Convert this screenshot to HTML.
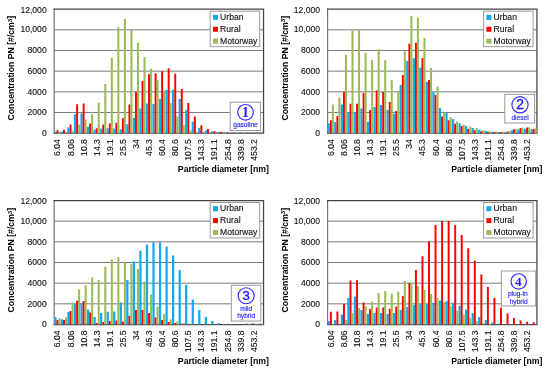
<!DOCTYPE html>
<html><head><meta charset="utf-8"><title>Particle number size distributions</title>
<style>
html,body{margin:0;padding:0;background:#fff}
svg{display:block}
text{font-family:"Liberation Sans",sans-serif}
.t{font-size:8.6px;fill:#111;stroke:#111;stroke-width:0.12px}
.b{font-size:8.68px;font-weight:bold;fill:#000}
.n{font-family:"Liberation Serif",serif;font-weight:bold;fill:#1a1aff}
.m{font-family:"Liberation Sans",sans-serif;fill:#1a1aff;stroke:#1a1aff;stroke-width:0.35px}
.s{font-size:6.6px;fill:#2a2aff;stroke:#2a2aff;stroke-width:0.15px}
</style></head><body>
<svg width="550" height="372" viewBox="0 0 550 372">
<rect width="550" height="372" fill="#fff"/>
<line x1="54.20" x2="263.55" y1="29.82" y2="29.82" stroke="#727272" stroke-width="0.95"/>
<line x1="54.20" x2="263.55" y1="50.48" y2="50.48" stroke="#727272" stroke-width="0.95"/>
<line x1="54.20" x2="263.55" y1="71.15" y2="71.15" stroke="#727272" stroke-width="0.95"/>
<line x1="54.20" x2="263.55" y1="91.82" y2="91.82" stroke="#727272" stroke-width="0.95"/>
<line x1="54.20" x2="263.55" y1="112.48" y2="112.48" stroke="#727272" stroke-width="0.95"/>
<path d="M54.20 8.53V133.78" stroke="#6e6e6e" stroke-width="1.15" fill="none"/>
<path d="M53.62 9.15H263.55V133.15H53.62" stroke="#444" stroke-width="1.25" fill="none" stroke-linejoin="miter"/>
<path d="M54.25 133.25v-1.86h2.25v1.86zM60.79 133.25v-1.86h2.25v1.86zM67.33 133.25v-5.78h2.25v5.78zM73.88 133.25v-18.91h2.25v18.91zM80.42 133.25v-19.63h2.25v19.63zM86.96 133.25v-6.51h2.25v6.51zM93.50 133.25v-3.61h2.25v3.61zM100.05 133.25v-4.75h2.25v4.75zM106.59 133.25v-5.06h2.25v5.06zM113.13 133.25v-4.75h2.25v4.75zM119.67 133.25v-4.03h2.25v4.03zM126.21 133.25v-8.88h2.25v8.88zM132.76 133.25v-15.19h2.25v15.19zM139.30 133.25v-24.80h2.25v24.80zM145.84 133.25v-29.76h2.25v29.76zM152.38 133.25v-29.24h2.25v29.24zM158.93 133.25v-34.20h2.25v34.20zM165.47 133.25v-43.19h2.25v43.19zM172.01 133.25v-43.60h2.25v43.60zM178.55 133.25v-34.20h2.25v34.20zM185.09 133.25v-23.14h2.25v23.14zM191.64 133.25v-11.47h2.25v11.47zM198.18 133.25v-5.16h2.25v5.16zM204.72 133.25v-2.68h2.25v2.68zM211.26 133.25v-1.65h2.25v1.65zM217.80 133.25v-1.13h2.25v1.13zM224.35 133.25v-0.72h2.25v0.72zM230.89 133.25v-0.41h2.25v0.41zM237.43 133.25v-0.40h2.25v0.40zM243.97 133.25v-0.40h2.25v0.40zM250.52 133.25v-0.40h2.25v0.40zM257.06 133.25v-0.40h2.25v0.40z" fill="#12a9ee"/>
<path d="M56.50 133.25v-2.89h1.95v2.89zM63.04 133.25v-3.61h1.95v3.61zM69.58 133.25v-8.68h1.95v8.68zM76.13 133.25v-29.03h1.95v29.03zM82.67 133.25v-29.76h1.95v29.76zM89.21 133.25v-9.81h1.95v9.81zM95.75 133.25v-5.06h1.95v5.06zM102.30 133.25v-8.68h1.95v8.68zM108.84 133.25v-9.81h1.95v9.81zM115.38 133.25v-10.54h1.95v10.54zM121.92 133.25v-15.08h1.95v15.08zM128.46 133.25v-28.83h1.95v28.83zM135.01 133.25v-41.23h1.95v41.23zM141.55 133.25v-52.28h1.95v52.28zM148.09 133.25v-59.00h1.95v59.00zM154.63 133.25v-60.03h1.95v60.03zM161.18 133.25v-62.10h1.95v62.10zM167.72 133.25v-64.89h1.95v64.89zM174.26 133.25v-59.52h1.95v59.52zM180.80 133.25v-44.22h1.95v44.22zM187.34 133.25v-30.17h1.95v30.17zM193.89 133.25v-16.74h1.95v16.74zM200.43 133.25v-7.95h1.95v7.95zM206.97 133.25v-4.13h1.95v4.13zM213.51 133.25v-2.06h1.95v2.06zM220.05 133.25v-1.13h1.95v1.13zM226.60 133.25v-0.72h1.95v0.72zM233.14 133.25v-0.41h1.95v0.41zM239.68 133.25v-0.40h1.95v0.40zM246.22 133.25v-0.40h1.95v0.40zM252.77 133.25v-0.40h1.95v0.40zM259.31 133.25v-0.40h1.95v0.40z" fill="#ff0000"/>
<path d="M58.45 133.25v-0.41h2.04v0.41zM64.99 133.25v-0.62h2.04v0.62zM71.53 133.25v-2.58h2.04v2.58zM78.08 133.25v-8.68h2.04v8.68zM84.62 133.25v-13.74h2.04v13.74zM91.16 133.25v-18.91h2.04v18.91zM97.70 133.25v-30.48h2.04v30.48zM104.25 133.25v-49.18h2.04v49.18zM110.79 133.25v-75.53h2.04v75.53zM117.33 133.25v-106.02h2.04v106.02zM123.87 133.25v-114.28h2.04v114.28zM130.41 133.25v-103.33h2.04v103.33zM136.96 133.25v-90.41h2.04v90.41zM143.50 133.25v-76.36h2.04v76.36zM150.04 133.25v-64.58h2.04v64.58zM156.58 133.25v-53.32h2.04v53.32zM163.12 133.25v-41.23h2.04v41.23zM169.67 133.25v-30.17h2.04v30.17zM176.21 133.25v-16.74h2.04v16.74zM182.75 133.25v-8.16h2.04v8.16zM189.29 133.25v-3.10h2.04v3.10zM195.84 133.25v-1.13h2.04v1.13zM202.38 133.25v-0.41h2.04v0.41zM208.92 133.25v-0.40h2.04v0.40z" fill="#9bbb59"/>
<text x="46.70" y="12.55" text-anchor="end" class="t">12,000</text>
<text x="46.70" y="32.47" text-anchor="end" class="t">10,000</text>
<text x="46.70" y="53.48" text-anchor="end" class="t">8000</text>
<text x="46.70" y="74.05" text-anchor="end" class="t">6000</text>
<text x="46.70" y="94.62" text-anchor="end" class="t">4000</text>
<text x="46.70" y="115.18" text-anchor="end" class="t">2000</text>
<text x="46.70" y="135.75" text-anchor="end" class="t">0</text>
<text transform="translate(14.20 68.15) rotate(-90)" text-anchor="middle" class="b">Concentration PN [#/cm<tspan dy="-2.7" font-size="6.2">3</tspan><tspan dy="2.7">]</tspan></text>
<text transform="translate(60.47 139.15) rotate(-90)" text-anchor="end" class="t">6.04</text>
<text transform="translate(73.56 139.15) rotate(-90)" text-anchor="end" class="t">8.06</text>
<text transform="translate(86.64 139.15) rotate(-90)" text-anchor="end" class="t">10.8</text>
<text transform="translate(99.72 139.15) rotate(-90)" text-anchor="end" class="t">14.3</text>
<text transform="translate(112.81 139.15) rotate(-90)" text-anchor="end" class="t">19.1</text>
<text transform="translate(125.89 139.15) rotate(-90)" text-anchor="end" class="t">25.5</text>
<text transform="translate(138.98 139.15) rotate(-90)" text-anchor="end" class="t">34</text>
<text transform="translate(152.06 139.15) rotate(-90)" text-anchor="end" class="t">45.3</text>
<text transform="translate(165.15 139.15) rotate(-90)" text-anchor="end" class="t">60.4</text>
<text transform="translate(178.23 139.15) rotate(-90)" text-anchor="end" class="t">80.6</text>
<text transform="translate(191.31 139.15) rotate(-90)" text-anchor="end" class="t">107.5</text>
<text transform="translate(204.40 139.15) rotate(-90)" text-anchor="end" class="t">143.3</text>
<text transform="translate(217.48 139.15) rotate(-90)" text-anchor="end" class="t">191.1</text>
<text transform="translate(230.57 139.15) rotate(-90)" text-anchor="end" class="t">254.8</text>
<text transform="translate(243.65 139.15) rotate(-90)" text-anchor="end" class="t">339.8</text>
<text transform="translate(256.74 139.15) rotate(-90)" text-anchor="end" class="t">453.2</text>
<text x="268.95" y="172.15" text-anchor="end" class="b">Particle diameter [nm]</text>
<rect x="210.20" y="11.15" width="49.5" height="35.5" fill="#fff" stroke="#9a9a9a" stroke-width="1.0"/>
<rect x="213.00" y="14.85" width="5.0" height="5.0" fill="#12a9ee"/>
<text x="220.10" y="19.85" class="t">Urban</text>
<rect x="213.00" y="26.75" width="5.0" height="5.0" fill="#ff0000"/>
<text x="220.10" y="31.75" class="t">Rural</text>
<rect x="213.00" y="38.65" width="5.0" height="5.0" fill="#9bbb59"/>
<text x="220.10" y="43.65" class="t">Motorway</text>
<rect x="230.20" y="102.20" width="30.3" height="28.3" fill="#fff" stroke="#9a9a9a" stroke-width="1.0"/>
<circle cx="245.50" cy="112.30" r="7.8" fill="none" stroke="#3030ff" stroke-width="1.2"/>
<text x="245.50" y="116.70" text-anchor="middle" class="n" style="font-size:13.8px">1</text>
<text x="245.50" y="127.40" text-anchor="middle" class="s">gasoline</text>
<line x1="327.60" x2="536.95" y1="29.82" y2="29.82" stroke="#727272" stroke-width="0.95"/>
<line x1="327.60" x2="536.95" y1="50.48" y2="50.48" stroke="#727272" stroke-width="0.95"/>
<line x1="327.60" x2="536.95" y1="71.15" y2="71.15" stroke="#727272" stroke-width="0.95"/>
<line x1="327.60" x2="536.95" y1="91.82" y2="91.82" stroke="#727272" stroke-width="0.95"/>
<line x1="327.60" x2="536.95" y1="112.48" y2="112.48" stroke="#727272" stroke-width="0.95"/>
<path d="M327.60 8.53V133.78" stroke="#6e6e6e" stroke-width="1.15" fill="none"/>
<path d="M327.02 9.15H536.95V133.15H327.02" stroke="#444" stroke-width="1.25" fill="none" stroke-linejoin="miter"/>
<path d="M327.65 133.25v-10.12h2.25v10.12zM334.19 133.25v-11.16h2.25v11.16zM340.73 133.25v-28.83h2.25v28.83zM347.28 133.25v-21.18h2.25v21.18zM353.82 133.25v-21.18h2.25v21.18zM360.36 133.25v-24.80h2.25v24.80zM366.90 133.25v-11.16h2.25v11.16zM373.45 133.25v-26.14h2.25v26.14zM379.99 133.25v-28.21h2.25v28.21zM386.53 133.25v-23.14h2.25v23.14zM393.07 133.25v-19.53h2.25v19.53zM399.61 133.25v-48.25h2.25v48.25zM406.16 133.25v-72.33h2.25v72.33zM412.70 133.25v-74.91h2.25v74.91zM419.24 133.25v-65.41h2.25v65.41zM425.78 133.25v-51.25h2.25v51.25zM432.32 133.25v-41.23h2.25v41.23zM438.87 133.25v-25.21h2.25v25.21zM445.41 133.25v-20.15h2.25v20.15zM451.95 133.25v-14.15h2.25v14.15zM458.49 133.25v-10.12h2.25v10.12zM465.04 133.25v-7.13h2.25v7.13zM471.58 133.25v-5.16h2.25v5.16zM478.12 133.25v-3.51h2.25v3.51zM484.66 133.25v-2.48h2.25v2.48zM491.20 133.25v-1.55h2.25v1.55zM497.75 133.25v-1.13h2.25v1.13zM504.29 133.25v-1.34h2.25v1.34zM510.83 133.25v-2.89h2.25v2.89zM517.37 133.25v-3.92h2.25v3.92zM523.92 133.25v-4.44h2.25v4.44zM530.46 133.25v-3.92h2.25v3.92z" fill="#12a9ee"/>
<path d="M329.90 133.25v-13.12h1.95v13.12zM336.44 133.25v-17.15h1.95v17.15zM342.98 133.25v-41.23h1.95v41.23zM349.53 133.25v-29.55h1.95v29.55zM356.07 133.25v-29.55h1.95v29.55zM362.61 133.25v-40.19h1.95v40.19zM369.15 133.25v-23.14h1.95v23.14zM375.70 133.25v-42.67h1.95v42.67zM382.24 133.25v-41.23h1.95v41.23zM388.78 133.25v-31.20h1.95v31.20zM395.32 133.25v-22.21h1.95v22.21zM401.86 133.25v-58.28h1.95v58.28zM408.41 133.25v-89.38h1.95v89.38zM414.95 133.25v-90.41h1.95v90.41zM421.49 133.25v-75.33h1.95v75.33zM428.03 133.25v-53.32h1.95v53.32zM434.57 133.25v-38.23h1.95v38.23zM441.12 133.25v-16.74h1.95v16.74zM447.66 133.25v-13.12h1.95v13.12zM454.20 133.25v-9.50h1.95v9.50zM460.74 133.25v-7.13h1.95v7.13zM467.29 133.25v-4.13h1.95v4.13zM473.83 133.25v-3.10h1.95v3.10zM480.37 133.25v-2.06h1.95v2.06zM486.91 133.25v-1.55h1.95v1.55zM493.45 133.25v-1.13h1.95v1.13zM500.00 133.25v-0.93h1.95v0.93zM506.54 133.25v-1.55h1.95v1.55zM513.08 133.25v-4.03h1.95v4.03zM519.62 133.25v-5.16h1.95v5.16zM526.17 133.25v-5.68h1.95v5.68zM532.71 133.25v-4.23h1.95v4.23z" fill="#ff0000"/>
<path d="M331.85 133.25v-28.83h2.04v28.83zM338.39 133.25v-35.85h2.04v35.85zM344.93 133.25v-78.32h2.04v78.32zM351.48 133.25v-102.81h2.04v102.81zM358.02 133.25v-103.23h2.04v103.23zM364.56 133.25v-80.39h2.04v80.39zM371.10 133.25v-73.36h2.04v73.36zM377.65 133.25v-84.01h2.04v84.01zM384.19 133.25v-72.95h2.04v72.95zM390.73 133.25v-53.32h2.04v53.32zM397.27 133.25v-41.23h2.04v41.23zM403.81 133.25v-81.94h2.04v81.94zM410.36 133.25v-117.28h2.04v117.28zM416.90 133.25v-115.83h2.04v115.83zM423.44 133.25v-95.17h2.04v95.17zM429.98 133.25v-65.30h2.04v65.30zM436.52 133.25v-46.81h2.04v46.81zM443.07 133.25v-20.77h2.04v20.77zM449.61 133.25v-16.12h2.04v16.12zM456.15 133.25v-11.78h2.04v11.78zM462.69 133.25v-8.68h2.04v8.68zM469.24 133.25v-6.71h2.04v6.71zM475.78 133.25v-5.16h2.04v5.16zM482.32 133.25v-3.10h2.04v3.10zM488.86 133.25v-2.06h2.04v2.06zM495.40 133.25v-1.65h2.04v1.65zM501.95 133.25v-1.44h2.04v1.44zM508.49 133.25v-2.17h2.04v2.17zM515.03 133.25v-3.92h2.04v3.92zM521.57 133.25v-5.68h2.04v5.68zM528.12 133.25v-5.89h2.04v5.89zM534.66 133.25v-4.96h2.04v4.96z" fill="#9bbb59"/>
<text x="320.10" y="12.55" text-anchor="end" class="t">12,000</text>
<text x="320.10" y="32.47" text-anchor="end" class="t">10,000</text>
<text x="320.10" y="53.48" text-anchor="end" class="t">8000</text>
<text x="320.10" y="74.05" text-anchor="end" class="t">6000</text>
<text x="320.10" y="94.62" text-anchor="end" class="t">4000</text>
<text x="320.10" y="115.18" text-anchor="end" class="t">2000</text>
<text x="320.10" y="135.75" text-anchor="end" class="t">0</text>
<text transform="translate(287.60 68.15) rotate(-90)" text-anchor="middle" class="b">Concentration PN [#/cm<tspan dy="-2.7" font-size="6.2">3</tspan><tspan dy="2.7">]</tspan></text>
<text transform="translate(333.87 139.15) rotate(-90)" text-anchor="end" class="t">6.04</text>
<text transform="translate(346.96 139.15) rotate(-90)" text-anchor="end" class="t">8.06</text>
<text transform="translate(360.04 139.15) rotate(-90)" text-anchor="end" class="t">10.8</text>
<text transform="translate(373.12 139.15) rotate(-90)" text-anchor="end" class="t">14.3</text>
<text transform="translate(386.21 139.15) rotate(-90)" text-anchor="end" class="t">19.1</text>
<text transform="translate(399.29 139.15) rotate(-90)" text-anchor="end" class="t">25.5</text>
<text transform="translate(412.38 139.15) rotate(-90)" text-anchor="end" class="t">34</text>
<text transform="translate(425.46 139.15) rotate(-90)" text-anchor="end" class="t">45.3</text>
<text transform="translate(438.55 139.15) rotate(-90)" text-anchor="end" class="t">60.4</text>
<text transform="translate(451.63 139.15) rotate(-90)" text-anchor="end" class="t">80.6</text>
<text transform="translate(464.71 139.15) rotate(-90)" text-anchor="end" class="t">107.5</text>
<text transform="translate(477.80 139.15) rotate(-90)" text-anchor="end" class="t">143.3</text>
<text transform="translate(490.88 139.15) rotate(-90)" text-anchor="end" class="t">191.1</text>
<text transform="translate(503.97 139.15) rotate(-90)" text-anchor="end" class="t">254.8</text>
<text transform="translate(517.05 139.15) rotate(-90)" text-anchor="end" class="t">339.8</text>
<text transform="translate(530.14 139.15) rotate(-90)" text-anchor="end" class="t">453.2</text>
<text x="542.35" y="172.15" text-anchor="end" class="b">Particle diameter [nm]</text>
<rect x="483.60" y="11.15" width="49.5" height="35.5" fill="#fff" stroke="#9a9a9a" stroke-width="1.0"/>
<rect x="486.40" y="14.85" width="5.0" height="5.0" fill="#12a9ee"/>
<text x="493.50" y="19.85" class="t">Urban</text>
<rect x="486.40" y="26.75" width="5.0" height="5.0" fill="#ff0000"/>
<text x="493.50" y="31.75" class="t">Rural</text>
<rect x="486.40" y="38.65" width="5.0" height="5.0" fill="#9bbb59"/>
<text x="493.50" y="43.65" class="t">Motorway</text>
<rect x="504.80" y="94.30" width="29.8" height="28.7" fill="#fff" stroke="#9a9a9a" stroke-width="1.0"/>
<circle cx="520.00" cy="104.80" r="8.1" fill="none" stroke="#3030ff" stroke-width="1.2"/>
<text x="520.00" y="109.00" text-anchor="middle" class="m" style="font-size:13.8px">2</text>
<text x="520.00" y="119.50" text-anchor="middle" class="s">diesel</text>
<line x1="54.20" x2="263.55" y1="221.17" y2="221.17" stroke="#727272" stroke-width="0.95"/>
<line x1="54.20" x2="263.55" y1="241.83" y2="241.83" stroke="#727272" stroke-width="0.95"/>
<line x1="54.20" x2="263.55" y1="262.50" y2="262.50" stroke="#727272" stroke-width="0.95"/>
<line x1="54.20" x2="263.55" y1="283.17" y2="283.17" stroke="#727272" stroke-width="0.95"/>
<line x1="54.20" x2="263.55" y1="303.83" y2="303.83" stroke="#727272" stroke-width="0.95"/>
<path d="M54.20 199.88V325.12" stroke="#6e6e6e" stroke-width="1.15" fill="none"/>
<path d="M53.62 200.50H263.55V324.50H53.62" stroke="#444" stroke-width="1.25" fill="none" stroke-linejoin="miter"/>
<path d="M54.25 324.60v-7.54h2.25v7.54zM60.79 324.60v-5.47h2.25v5.47zM67.33 324.60v-12.50h2.25v12.50zM73.88 324.60v-20.97h2.25v20.97zM80.42 324.60v-21.59h2.25v21.59zM86.96 324.60v-14.98h2.25v14.98zM93.50 324.60v-7.54h2.25v7.54zM100.05 324.60v-11.57h2.25v11.57zM106.59 324.60v-12.91h2.25v12.91zM113.13 324.60v-13.12h2.25v13.12zM119.67 324.60v-22.01h2.25v22.01zM126.21 324.60v-44.53h2.25v44.53zM132.76 324.60v-63.13h2.25v63.13zM139.30 324.60v-73.78h2.25v73.78zM145.84 324.60v-80.18h2.25v80.18zM152.38 324.60v-82.35h2.25v82.35zM158.93 324.60v-82.35h2.25v82.35zM165.47 324.60v-78.12h2.25v78.12zM172.01 324.60v-69.13h2.25v69.13zM178.55 324.60v-54.56h2.25v54.56zM185.09 324.60v-39.78h2.25v39.78zM191.64 324.60v-25.21h2.25v25.21zM198.18 324.60v-14.57h2.25v14.57zM204.72 324.60v-7.54h2.25v7.54zM211.26 324.60v-3.51h2.25v3.51zM217.80 324.60v-1.55h2.25v1.55zM224.35 324.60v-0.51h2.25v0.51zM230.89 324.60v-0.40h2.25v0.40zM237.43 324.60v-0.40h2.25v0.40zM243.97 324.60v-0.82h2.25v0.82zM250.52 324.60v-1.03h2.25v1.03zM257.06 324.60v-0.93h2.25v0.93z" fill="#12a9ee"/>
<path d="M56.50 324.60v-4.54h1.95v4.54zM63.04 324.60v-4.54h1.95v4.54zM69.58 324.60v-13.53h1.95v13.53zM76.13 324.60v-23.97h1.95v23.97zM82.67 324.60v-23.56h1.95v23.56zM89.21 324.60v-12.19h1.95v12.19zM95.75 324.60v-1.55h1.95v1.55zM102.30 324.60v-2.48h1.95v2.48zM108.84 324.60v-3.51h1.95v3.51zM115.38 324.60v-4.13h1.95v4.13zM121.92 324.60v-3.10h1.95v3.10zM128.46 324.60v-8.88h1.95v8.88zM135.01 324.60v-14.57h1.95v14.57zM141.55 324.60v-14.57h1.95v14.57zM148.09 324.60v-11.57h1.95v11.57zM154.63 324.60v-7.13h1.95v7.13zM161.18 324.60v-4.54h1.95v4.54zM167.72 324.60v-2.48h1.95v2.48zM174.26 324.60v-1.55h1.95v1.55zM180.80 324.60v-0.93h1.95v0.93zM187.34 324.60v-0.51h1.95v0.51zM193.89 324.60v-0.40h1.95v0.40zM200.43 324.60v-0.40h1.95v0.40zM206.97 324.60v-0.40h1.95v0.40zM213.51 324.60v-0.40h1.95v0.40zM220.05 324.60v-0.40h1.95v0.40zM226.60 324.60v-0.40h1.95v0.40zM233.14 324.60v-0.40h1.95v0.40zM239.68 324.60v-0.40h1.95v0.40zM246.22 324.60v-0.93h1.95v0.93zM252.77 324.60v-1.03h1.95v1.03zM259.31 324.60v-0.93h1.95v0.93z" fill="#ff0000"/>
<path d="M58.45 324.60v-6.51h2.04v6.51zM64.99 324.60v-7.13h2.04v7.13zM71.53 324.60v-22.21h2.04v22.21zM78.08 324.60v-35.23h2.04v35.23zM84.62 324.60v-39.26h2.04v39.26zM91.16 324.60v-47.22h2.04v47.22zM97.70 324.60v-44.64h2.04v44.64zM104.25 324.60v-58.07h2.04v58.07zM110.79 324.60v-65.30h2.04v65.30zM117.33 324.60v-67.27h2.04v67.27zM123.87 324.60v-62.62h2.04v62.62zM130.41 324.60v-60.65h2.04v60.65zM136.96 324.60v-55.59h2.04v55.59zM143.50 324.60v-43.19h2.04v43.19zM150.04 324.60v-30.17h2.04v30.17zM156.58 324.60v-18.08h2.04v18.08zM163.12 324.60v-10.54h2.04v10.54zM169.67 324.60v-5.16h2.04v5.16zM176.21 324.60v-3.10h2.04v3.10zM182.75 324.60v-1.86h2.04v1.86zM189.29 324.60v-0.93h2.04v0.93zM195.84 324.60v-0.40h2.04v0.40zM202.38 324.60v-0.40h2.04v0.40zM208.92 324.60v-0.40h2.04v0.40zM215.46 324.60v-0.40h2.04v0.40zM222.00 324.60v-0.40h2.04v0.40zM228.55 324.60v-0.40h2.04v0.40zM235.09 324.60v-0.40h2.04v0.40zM241.63 324.60v-0.40h2.04v0.40zM248.17 324.60v-0.72h2.04v0.72zM254.72 324.60v-0.93h2.04v0.93zM261.26 324.60v-0.82h2.04v0.82z" fill="#9bbb59"/>
<text x="46.70" y="204.40" text-anchor="end" class="t">12,000</text>
<text x="46.70" y="223.82" text-anchor="end" class="t">10,000</text>
<text x="46.70" y="244.83" text-anchor="end" class="t">8000</text>
<text x="46.70" y="265.40" text-anchor="end" class="t">6000</text>
<text x="46.70" y="285.97" text-anchor="end" class="t">4000</text>
<text x="46.70" y="306.53" text-anchor="end" class="t">2000</text>
<text x="46.70" y="327.10" text-anchor="end" class="t">0</text>
<text transform="translate(14.20 260.10) rotate(-90)" text-anchor="middle" class="b">Concentration PN [#/cm<tspan dy="-2.7" font-size="6.2">3</tspan><tspan dy="2.7">]</tspan></text>
<text transform="translate(60.47 330.50) rotate(-90)" text-anchor="end" class="t">6.04</text>
<text transform="translate(73.56 330.50) rotate(-90)" text-anchor="end" class="t">8.06</text>
<text transform="translate(86.64 330.50) rotate(-90)" text-anchor="end" class="t">10.8</text>
<text transform="translate(99.72 330.50) rotate(-90)" text-anchor="end" class="t">14.3</text>
<text transform="translate(112.81 330.50) rotate(-90)" text-anchor="end" class="t">19.1</text>
<text transform="translate(125.89 330.50) rotate(-90)" text-anchor="end" class="t">25.5</text>
<text transform="translate(138.98 330.50) rotate(-90)" text-anchor="end" class="t">34</text>
<text transform="translate(152.06 330.50) rotate(-90)" text-anchor="end" class="t">45.3</text>
<text transform="translate(165.15 330.50) rotate(-90)" text-anchor="end" class="t">60.4</text>
<text transform="translate(178.23 330.50) rotate(-90)" text-anchor="end" class="t">80.6</text>
<text transform="translate(191.31 330.50) rotate(-90)" text-anchor="end" class="t">107.5</text>
<text transform="translate(204.40 330.50) rotate(-90)" text-anchor="end" class="t">143.3</text>
<text transform="translate(217.48 330.50) rotate(-90)" text-anchor="end" class="t">191.1</text>
<text transform="translate(230.57 330.50) rotate(-90)" text-anchor="end" class="t">254.8</text>
<text transform="translate(243.65 330.50) rotate(-90)" text-anchor="end" class="t">339.8</text>
<text transform="translate(256.74 330.50) rotate(-90)" text-anchor="end" class="t">453.2</text>
<text x="268.95" y="363.50" text-anchor="end" class="b">Particle diameter [nm]</text>
<rect x="210.20" y="202.50" width="49.5" height="35.5" fill="#fff" stroke="#9a9a9a" stroke-width="1.0"/>
<rect x="213.00" y="206.20" width="5.0" height="5.0" fill="#12a9ee"/>
<text x="220.10" y="211.20" class="t">Urban</text>
<rect x="213.00" y="218.10" width="5.0" height="5.0" fill="#ff0000"/>
<text x="220.10" y="223.10" class="t">Rural</text>
<rect x="213.00" y="230.00" width="5.0" height="5.0" fill="#9bbb59"/>
<text x="220.10" y="235.00" class="t">Motorway</text>
<rect x="231.30" y="285.25" width="29.5" height="35.8" fill="#fff" stroke="#9a9a9a" stroke-width="1.0"/>
<circle cx="246.20" cy="295.75" r="8.0" fill="none" stroke="#3030ff" stroke-width="1.2"/>
<text x="246.20" y="300.10" text-anchor="middle" class="m" style="font-size:13.2px">3</text>
<text x="246.20" y="311.15" text-anchor="middle" class="s">mild</text>
<text x="246.20" y="317.75" text-anchor="middle" class="s">hybrid</text>
<line x1="327.60" x2="536.95" y1="221.17" y2="221.17" stroke="#727272" stroke-width="0.95"/>
<line x1="327.60" x2="536.95" y1="241.83" y2="241.83" stroke="#727272" stroke-width="0.95"/>
<line x1="327.60" x2="536.95" y1="262.50" y2="262.50" stroke="#727272" stroke-width="0.95"/>
<line x1="327.60" x2="536.95" y1="283.17" y2="283.17" stroke="#727272" stroke-width="0.95"/>
<line x1="327.60" x2="536.95" y1="303.83" y2="303.83" stroke="#727272" stroke-width="0.95"/>
<path d="M327.60 199.88V325.12" stroke="#6e6e6e" stroke-width="1.15" fill="none"/>
<path d="M327.02 200.50H536.95V324.50H327.02" stroke="#444" stroke-width="1.25" fill="none" stroke-linejoin="miter"/>
<path d="M327.65 324.60v-3.51h2.25v3.51zM334.19 324.60v-4.54h2.25v4.54zM340.73 324.60v-10.12h2.25v10.12zM347.28 324.60v-26.55h2.25v26.55zM353.82 324.60v-28.00h2.25v28.00zM360.36 324.60v-14.57h2.25v14.57zM366.90 324.60v-10.54h2.25v10.54zM373.45 324.60v-11.57h2.25v11.57zM379.99 324.60v-11.57h2.25v11.57zM386.53 324.60v-10.54h2.25v10.54zM393.07 324.60v-11.57h2.25v11.57zM399.61 324.60v-14.57h2.25v14.57zM406.16 324.60v-17.67h2.25v17.67zM412.70 324.60v-19.53h2.25v19.53zM419.24 324.60v-20.56h2.25v20.56zM425.78 324.60v-20.56h2.25v20.56zM432.32 324.60v-21.90h2.25v21.90zM438.87 324.60v-24.07h2.25v24.07zM445.41 324.60v-23.45h2.25v23.45zM451.95 324.60v-21.80h2.25v21.80zM458.49 324.60v-18.80h2.25v18.80zM465.04 324.60v-15.08h2.25v15.08zM471.58 324.60v-11.47h2.25v11.47zM478.12 324.60v-7.64h2.25v7.64zM484.66 324.60v-4.54h2.25v4.54zM491.20 324.60v-2.06h2.25v2.06zM497.75 324.60v-1.13h2.25v1.13zM504.29 324.60v-0.51h2.25v0.51zM510.83 324.60v-0.40h2.25v0.40zM517.37 324.60v-0.40h2.25v0.40zM523.92 324.60v-0.40h2.25v0.40zM530.46 324.60v-0.40h2.25v0.40z" fill="#12a9ee"/>
<path d="M329.90 324.60v-12.91h1.95v12.91zM336.44 324.60v-13.12h1.95v13.12zM342.98 324.60v-20.56h1.95v20.56zM349.53 324.60v-44.02h1.95v44.02zM356.07 324.60v-44.43h1.95v44.43zM362.61 324.60v-22.21h1.95v22.21zM369.15 324.60v-15.60h1.95v15.60zM375.70 324.60v-17.15h1.95v17.15zM382.24 324.60v-17.15h1.95v17.15zM388.78 324.60v-15.91h1.95v15.91zM395.32 324.60v-18.18h1.95v18.18zM401.86 324.60v-28.52h1.95v28.52zM408.41 324.60v-41.54h1.95v41.54zM414.95 324.60v-54.56h1.95v54.56zM421.49 324.60v-68.30h1.95v68.30zM428.03 324.60v-83.08h1.95v83.08zM434.57 324.60v-99.51h1.95v99.51zM441.12 324.60v-103.64h1.95v103.64zM447.66 324.60v-103.64h1.95v103.64zM454.20 324.60v-99.61h1.95v99.61zM460.74 324.60v-89.59h1.95v89.59zM467.29 324.60v-76.36h1.95v76.36zM473.83 324.60v-63.75h1.95v63.75zM480.37 324.60v-50.11h1.95v50.11zM486.91 324.60v-37.61h1.95v37.61zM493.45 324.60v-26.55h1.95v26.55zM500.00 324.60v-17.15h1.95v17.15zM506.54 324.60v-11.16h1.95v11.16zM513.08 324.60v-6.51h1.95v6.51zM519.62 324.60v-4.13h1.95v4.13zM526.17 324.60v-2.89h1.95v2.89zM532.71 324.60v-2.27h1.95v2.27z" fill="#ff0000"/>
<path d="M331.85 324.60v-0.51h2.04v0.51zM338.39 324.60v-0.41h2.04v0.41zM344.93 324.60v-4.54h2.04v4.54zM351.48 324.60v-11.57h2.04v11.57zM358.02 324.60v-16.53h2.04v16.53zM364.56 324.60v-18.60h2.04v18.60zM371.10 324.60v-23.14h2.04v23.14zM377.65 324.60v-31.62h2.04v31.62zM384.19 324.60v-33.58h2.04v33.58zM390.73 324.60v-31.20h2.04v31.20zM397.27 324.60v-32.96h2.04v32.96zM403.81 324.60v-43.50h2.04v43.50zM410.36 324.60v-41.95h2.04v41.95zM416.90 324.60v-38.33h2.04v38.33zM423.44 324.60v-34.51h2.04v34.51zM429.98 324.60v-30.48h2.04v30.48zM436.52 324.60v-26.55h2.04v26.55zM443.07 324.60v-22.42h2.04v22.42zM449.61 324.60v-18.49h2.04v18.49zM456.15 324.60v-14.05h2.04v14.05zM462.69 324.60v-10.12h2.04v10.12zM469.24 324.60v-6.92h2.04v6.92zM475.78 324.60v-3.51h2.04v3.51zM482.32 324.60v-1.55h2.04v1.55zM488.86 324.60v-0.51h2.04v0.51zM495.40 324.60v-0.40h2.04v0.40zM501.95 324.60v-0.40h2.04v0.40zM508.49 324.60v-0.40h2.04v0.40zM515.03 324.60v-0.40h2.04v0.40zM521.57 324.60v-0.40h2.04v0.40zM528.12 324.60v-0.40h2.04v0.40zM534.66 324.60v-0.40h2.04v0.40z" fill="#9bbb59"/>
<text x="320.10" y="204.40" text-anchor="end" class="t">12,000</text>
<text x="320.10" y="223.82" text-anchor="end" class="t">10,000</text>
<text x="320.10" y="244.83" text-anchor="end" class="t">8000</text>
<text x="320.10" y="265.40" text-anchor="end" class="t">6000</text>
<text x="320.10" y="285.97" text-anchor="end" class="t">4000</text>
<text x="320.10" y="306.53" text-anchor="end" class="t">2000</text>
<text x="320.10" y="327.10" text-anchor="end" class="t">0</text>
<text transform="translate(287.60 260.10) rotate(-90)" text-anchor="middle" class="b">Concentration PN [#/cm<tspan dy="-2.7" font-size="6.2">3</tspan><tspan dy="2.7">]</tspan></text>
<text transform="translate(333.87 330.50) rotate(-90)" text-anchor="end" class="t">6.04</text>
<text transform="translate(346.96 330.50) rotate(-90)" text-anchor="end" class="t">8.06</text>
<text transform="translate(360.04 330.50) rotate(-90)" text-anchor="end" class="t">10.8</text>
<text transform="translate(373.12 330.50) rotate(-90)" text-anchor="end" class="t">14.3</text>
<text transform="translate(386.21 330.50) rotate(-90)" text-anchor="end" class="t">19.1</text>
<text transform="translate(399.29 330.50) rotate(-90)" text-anchor="end" class="t">25.5</text>
<text transform="translate(412.38 330.50) rotate(-90)" text-anchor="end" class="t">34</text>
<text transform="translate(425.46 330.50) rotate(-90)" text-anchor="end" class="t">45.3</text>
<text transform="translate(438.55 330.50) rotate(-90)" text-anchor="end" class="t">60.4</text>
<text transform="translate(451.63 330.50) rotate(-90)" text-anchor="end" class="t">80.6</text>
<text transform="translate(464.71 330.50) rotate(-90)" text-anchor="end" class="t">107.5</text>
<text transform="translate(477.80 330.50) rotate(-90)" text-anchor="end" class="t">143.3</text>
<text transform="translate(490.88 330.50) rotate(-90)" text-anchor="end" class="t">191.1</text>
<text transform="translate(503.97 330.50) rotate(-90)" text-anchor="end" class="t">254.8</text>
<text transform="translate(517.05 330.50) rotate(-90)" text-anchor="end" class="t">339.8</text>
<text transform="translate(530.14 330.50) rotate(-90)" text-anchor="end" class="t">453.2</text>
<text x="542.35" y="363.50" text-anchor="end" class="b">Particle diameter [nm]</text>
<rect x="483.60" y="202.50" width="49.5" height="35.5" fill="#fff" stroke="#9a9a9a" stroke-width="1.0"/>
<rect x="486.40" y="206.20" width="5.0" height="5.0" fill="#12a9ee"/>
<text x="493.50" y="211.20" class="t">Urban</text>
<rect x="486.40" y="218.10" width="5.0" height="5.0" fill="#ff0000"/>
<text x="493.50" y="223.10" class="t">Rural</text>
<rect x="486.40" y="230.00" width="5.0" height="5.0" fill="#9bbb59"/>
<text x="493.50" y="235.00" class="t">Motorway</text>
<rect x="501.30" y="271.05" width="34.4" height="34.9" fill="#fff" stroke="#9a9a9a" stroke-width="1.0"/>
<circle cx="518.70" cy="281.45" r="7.7" fill="none" stroke="#3030ff" stroke-width="1.2"/>
<text x="518.40" y="285.55" text-anchor="middle" class="n" style="font-size:13.2px">4</text>
<text x="517.80" y="296.25" text-anchor="middle" class="s">plug-in</text>
<text x="518.70" y="303.75" text-anchor="middle" class="s">hybrid</text>
</svg>
</body></html>
